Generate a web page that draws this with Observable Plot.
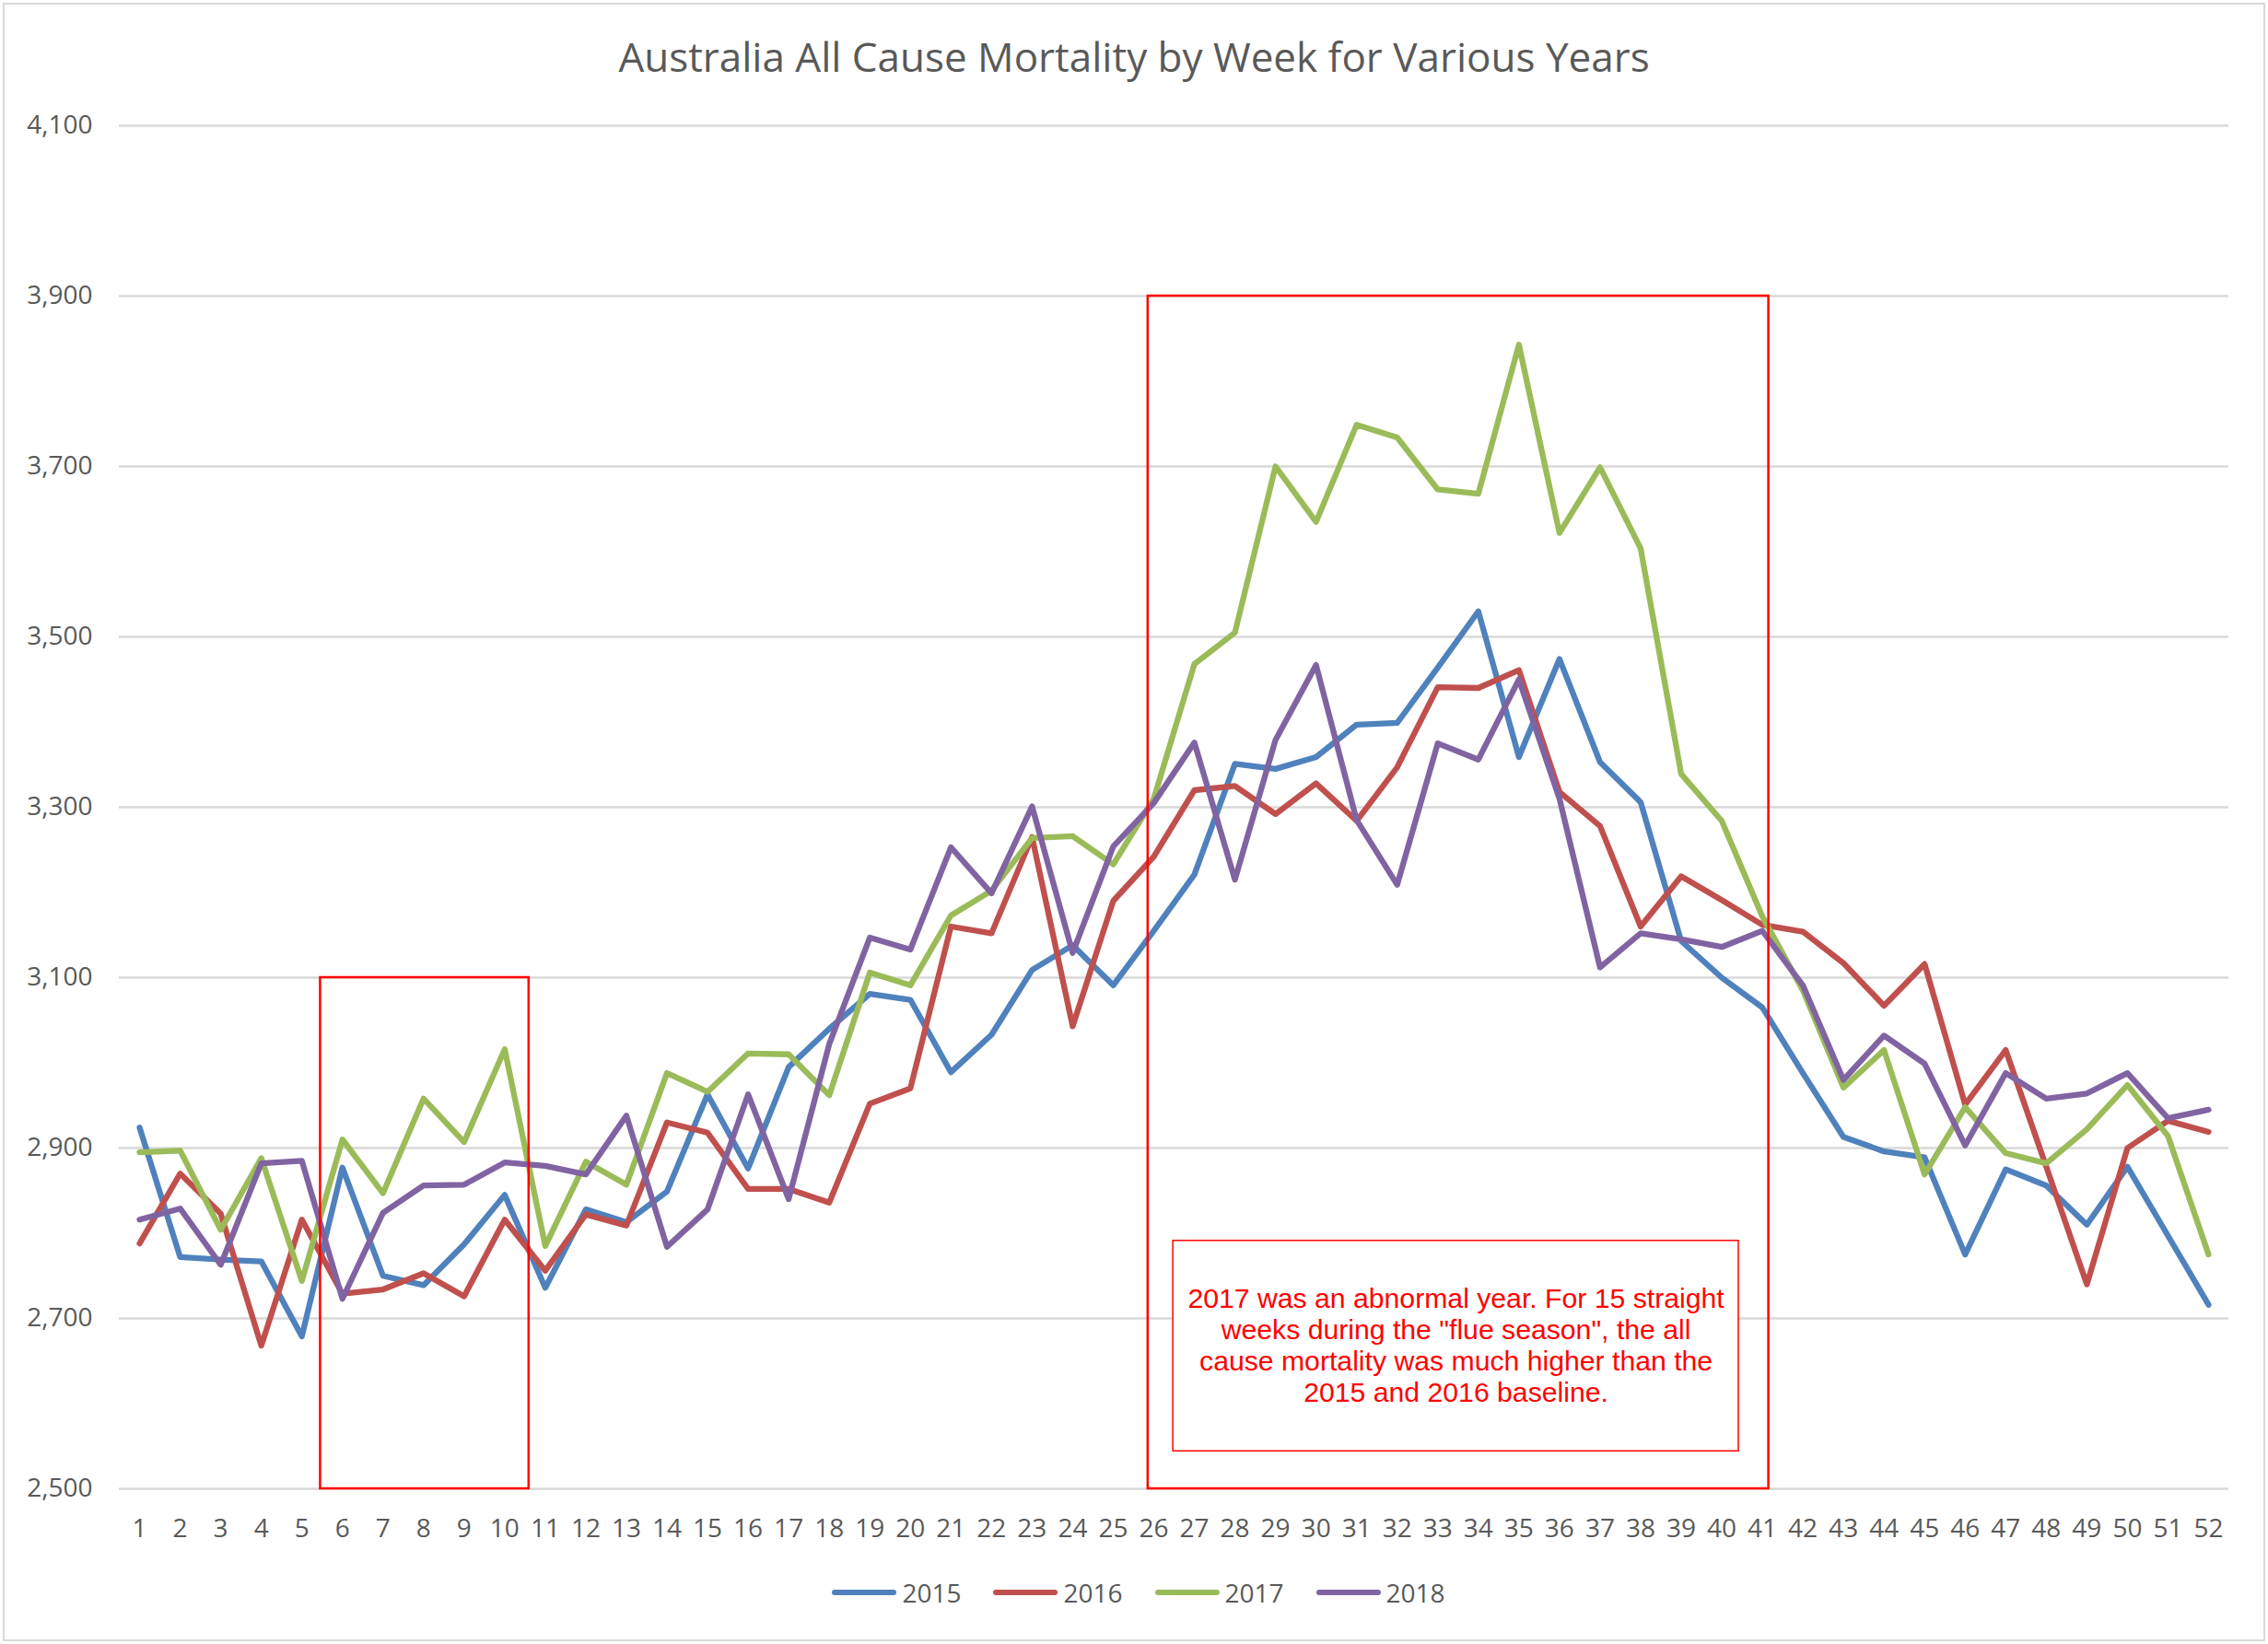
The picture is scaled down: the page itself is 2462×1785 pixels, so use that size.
<!DOCTYPE html>
<html>
<head>
<meta charset="utf-8">
<script src="https://cdn.jsdelivr.net/npm/d3@7"></script>
<script src="https://cdn.jsdelivr.net/npm/@observablehq/plot@0.6"></script>
<style>
  html, body { margin: 0; padding: 0; background: #fff; }
  #wrap { position: relative; width: 2462px; height: 1785px; background: #fff; overflow: hidden; }
  #frame { position: absolute; left: 3px; top: 3px; width: 2456px; height: 1779px; border: 2px solid #d9d9d9; box-sizing: border-box; pointer-events: none; }
  #title { position: absolute; left: 0; top: 39px; width: 2462px; text-align: center; font-family: "Open Sans", sans-serif; font-size: 44px; line-height: 44px; color: #595959; white-space: nowrap; }
  #chart { position: absolute; left: 0; top: 110px; }
  #legend { position: absolute; left: 5px; top: 1712px; width: 2462px; height: 34px; display: flex; justify-content: center; align-items: center; gap: 35px; font-family: "Open Sans", sans-serif; font-size: 28px; color: #595959; }
  .item { display: flex; align-items: center; }
  .swatch { width: 70px; height: 6px; border-radius: 3px; margin-right: 6px; }
</style>
</head>
<body>
<div id="wrap">
  <div id="title"></div>
  <div id="chart"></div>
  <div id="legend"></div>
  <div id="frame"></div>
</div>
<script>
// ---------- data ----------
const titleText = "Australia All Cause Mortality by Week for Various Years";
const weeks = [1,2,3,4,5,6,7,8,9,10,11,12,13,14,15,16,17,18,19,20,21,22,23,24,25,26,
               27,28,29,30,31,32,33,34,35,36,37,38,39,40,41,42,43,44,45,46,47,48,49,50,51,52];
const years = ["2015", "2016", "2017", "2018"];
const colors = ["#4F81BD", "#C0504D", "#9BBB59", "#8064A2"];
const yTicks = [2500, 2700, 2900, 3100, 3300, 3500, 3700, 3900, 4100];

const deaths2015 = [2924, 2772, 2769, 2767, 2679, 2877, 2750, 2739, 2787, 2845,
                    2736, 2828, 2813, 2849, 2963, 2876, 2995, 3040, 3081, 3074,
                    2989, 3033, 3109, 3138, 3091, 3155, 3221, 3351, 3345, 3359,
                    3397, 3399, 3464, 3530, 3359, 3474, 3353, 3306, 3143, 3100,
                    3065, 2988, 2913, 2896, 2889, 2775, 2875, 2856, 2810, 2878,
                    2797, 2716];
const deaths2016 = [2788, 2870, 2823, 2668, 2816, 2729, 2734, 2753, 2726, 2816,
                    2756, 2822, 2809, 2930, 2918, 2852, 2852, 2836, 2952, 2970,
                    3160, 3152, 3265, 3043, 3190, 3242, 3320, 3325, 3292, 3328,
                    3284, 3347, 3441, 3440, 3461, 3318, 3278, 3160, 3219, 3191,
                    3162, 3154, 3117, 3067, 3116, 2951, 3015, 2878, 2740, 2900,
                    2932, 2919];
const deaths2017 = [2895, 2897, 2804, 2888, 2744, 2910, 2847, 2958, 2907, 3016,
                    2785, 2884, 2857, 2988, 2966, 3011, 3010, 2962, 3106, 3091,
                    3173, 3202, 3264, 3266, 3233, 3310, 3468, 3505, 3700, 3635,
                    3749, 3734, 3673, 3668, 3843, 3622, 3699, 3604, 3339, 3284,
                    3172, 3085, 2971, 3015, 2869, 2948, 2894, 2882, 2922, 2974,
                    2914, 2775];
const deaths2018 = [2816, 2829, 2763, 2882, 2885, 2723, 2824, 2856, 2857, 2883,
                    2879, 2869, 2938, 2784, 2828, 2963, 2840, 3022, 3147, 3133,
                    3253, 3199, 3301, 3129, 3254, 3305, 3376, 3215, 3379, 3467,
                    3285, 3209, 3375, 3356, 3450, 3310, 3112, 3152, 3145, 3136,
                    3155, 3091, 2980, 3032, 2999, 2903, 2988, 2958, 2964, 2988,
                    2935, 2945];

// annotation shapes, in data units (week, deaths)
const highlightBoxes = [
  {x1: 5.46, x2: 10.6, y1: 2500, y2: 3100},
  {x1: 25.86, x2: 41.16, y1: 2500, y2: 3900}
];
const noteBox = [{x1: 26.48, x2: 40.42, y1: 2544, y2: 2791}];
const noteLines = [
  "2017 was an abnormal year. For 15 straight",
  "weeks during the \"flue season\", the all",
  "cause mortality was much higher than the",
  "2015 and 2016 baseline."
];
const notePos = [{x: 33.45, y: 2669}];

// ---------- build ----------
const series = [deaths2015, deaths2016, deaths2017, deaths2018];
const rows = [];
years.forEach((yr, i) => {
  weeks.forEach((w, j) => rows.push({year: yr, week: w, deaths: series[i][j]}));
});

document.getElementById("title").textContent = titleText;

const chart = Plot.plot({
  width: 2462,
  height: 1585,
  marginLeft: 129,
  marginRight: 43,
  marginTop: 26,
  marginBottom: 79,
  style: {fontFamily: "'Open Sans', sans-serif", fontSize: "28px", color: "#595959", background: "transparent"},
  x: {type: "linear", domain: [0.5, 52.5], ticks: weeks, tickFormat: d => String(d), tickSize: 0, tickPadding: 33, label: null},
  y: {domain: [2500, 4100], ticks: yTicks, tickFormat: d3.format(","), tickSize: 0, tickPadding: 29, label: null},
  color: {domain: years, range: colors},
  marks: [
    Plot.ruleY(yTicks, {stroke: "#d9d9d9", strokeWidth: 2.5}),
    Plot.line(rows, {x: "week", y: "deaths", z: "year", stroke: "year", strokeWidth: 6.3,
                     strokeLinejoin: "round", strokeLinecap: "round"}),
    Plot.rect(highlightBoxes, {x1: "x1", x2: "x2", y1: "y1", y2: "y2", fill: "none", stroke: "#ff0000", strokeWidth: 2.5}),
    Plot.rect(noteBox, {x1: "x1", x2: "x2", y1: "y1", y2: "y2", fill: "white", stroke: "#ff0000", strokeWidth: 1.5}),
    Plot.text(notePos, {x: "x", y: "y", text: () => noteLines.join("\n"), fill: "#ff0000",
                        fontFamily: "'Liberation Sans', Arial, sans-serif", fontSize: 30.2,
                        lineHeight: 1.126, textAnchor: "middle", lineAnchor: "middle"})
  ]
});
document.getElementById("chart").appendChild(chart);

const legend = document.getElementById("legend");
years.forEach((yr, i) => {
  const item = document.createElement("div");
  item.className = "item";
  const sw = document.createElement("div");
  sw.className = "swatch";
  sw.style.background = colors[i];
  const t = document.createElement("span");
  t.textContent = yr;
  item.appendChild(sw);
  item.appendChild(t);
  legend.appendChild(item);
});
</script>
</body>
</html>
